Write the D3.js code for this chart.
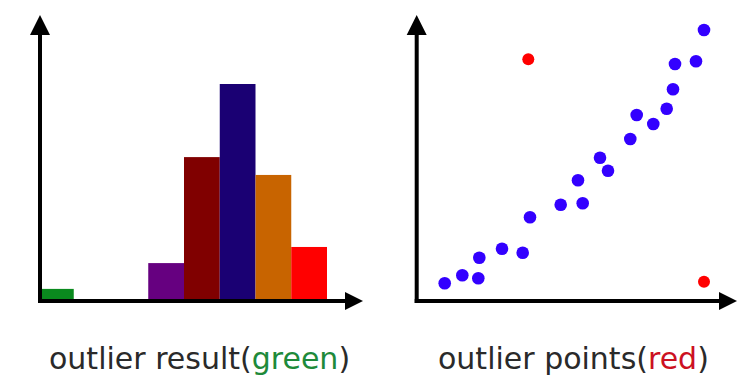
<!DOCTYPE html>
<html>
<head>
<meta charset="utf-8">
<script src="https://cdn.jsdelivr.net/npm/d3@7"></script>
<style>
  html, body { margin: 0; padding: 0; background: #fff; }
  svg { display: block; }
</style>
</head>
<body>
<svg id="chart" width="748" height="381"></svg>
<script>
// ---- Data ----
// Histogram (left): 8 bins
const binLabels = ["b0", "b1", "b2", "b3", "b4", "b5", "b6", "b7"];
const binValues = [0.47, 0, 0, 1.67, 6.6, 10, 5.77, 2.42];
const binColors = ["#0a8a1e", "#ffffff", "#ffffff", "#660080", "#800000", "#1a0073", "#c86400", "#ff0000"];

// Scatter (right): normal points (blue) and outliers (red)
const normalX = [28, 45.6, 61.6, 62.6, 85.3, 106, 113.3, 144, 166, 161.3, 183.3, 191.3, 213.6, 220, 236.6, 250, 256.3, 258.3, 279.3, 287.3];
const normalY = [17.7, 25.7, 22.7, 43.3, 52.3, 48.3, 83.7, 96.3, 97.7, 120.7, 143.3, 130.3, 162, 186, 177, 192.3, 211.7, 237, 239.7, 271];
const outlierX = [111.6, 287.3];
const outlierY = [241.7, 19.3];

// Captions
const captionLeft = ["outlier result(", "green", ")"];
const captionRight = ["outlier points(", "red", ")"];

// ---- Drawing ----
const svg = d3.select("#chart");
const axisColor = "#000";

function drawFrame(ox, oy, topY, rightX) {
  const g = svg.append("g");
  // y axis
  g.append("line").attr("x1", ox).attr("y1", oy + 2).attr("x2", ox).attr("y2", topY + 18)
    .attr("stroke", axisColor).attr("stroke-width", 4);
  g.append("path")
    .attr("d", d3.line()([[ox, topY], [ox - 10, topY + 20], [ox + 10, topY + 20]]) + "Z")
    .attr("fill", axisColor);
  // x axis
  g.append("line").attr("x1", ox - 2).attr("y1", oy).attr("x2", rightX - 16).attr("y2", oy)
    .attr("stroke", axisColor).attr("stroke-width", 4);
  g.append("path")
    .attr("d", d3.line()([[rightX, oy], [rightX - 18, oy - 9], [rightX - 18, oy + 9]]) + "Z")
    .attr("fill", axisColor);
}

// Left histogram
const xL = d3.scaleBand().domain(binLabels).range([41, 327]).padding(0);
const yL = d3.scaleLinear().domain([0, 10]).range([299, 84]);

svg.append("g").selectAll("rect")
  .data(binLabels.map((b, i) => ({ b, v: binValues[i], c: binColors[i] })).filter(d => d.v > 0))
  .join("rect")
  .attr("x", d => xL(d.b))
  .attr("width", d => d.b === "b0" ? xL.bandwidth() - 3 : xL.bandwidth())
  .attr("y", d => yL(d.v))
  .attr("height", d => yL(0) - yL(d.v))
  .attr("fill", d => d.c);

drawFrame(40, 301, 15, 363);

// Right scatter
const xR = d3.scaleLinear().domain([0, 320]).range([416.7, 736.7]);
const yR = d3.scaleLinear().domain([0, 286]).range([301, 15]);

drawFrame(416.7, 301, 15, 737);

svg.append("g").selectAll("circle")
  .data(normalX.map((x, i) => ({ x, y: normalY[i] })))
  .join("circle")
  .attr("cx", d => xR(d.x)).attr("cy", d => yR(d.y))
  .attr("r", 6.3).attr("fill", "#3300ff");

svg.append("g").selectAll("circle")
  .data(outlierX.map((x, i) => ({ x, y: outlierY[i] })))
  .join("circle")
  .attr("cx", d => xR(d.x)).attr("cy", d => yR(d.y))
  .attr("r", 6).attr("fill", "#ff0000");

// Captions
function caption(x, parts, accent) {
  const t = svg.append("text")
    .attr("x", x).attr("y", 369)
    .attr("font-family", "'DejaVu Sans', Verdana, sans-serif")
    .attr("font-size", 30)
    .attr("fill", "#2a2a2a");
  t.append("tspan").text(parts[0]);
  t.append("tspan").attr("fill", accent).text(parts[1]);
  t.append("tspan").text(parts[2]);
}
caption(49, captionLeft, "#1e8a3a");
caption(438, captionRight, "#cc1122");
</script>
</body>
</html>
